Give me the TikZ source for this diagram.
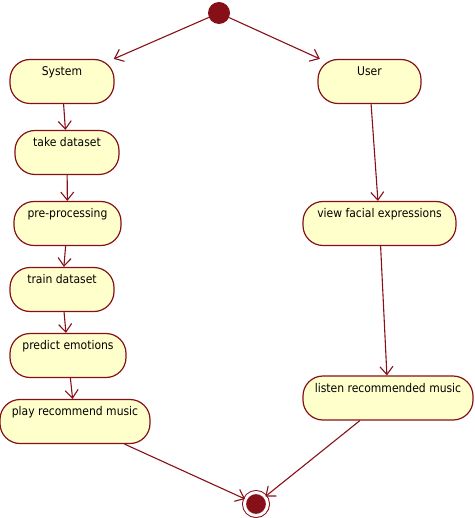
\documentclass[tikz,border=0pt]{standalone}
\usepackage{fontspec}
\setmainfont{DejaVu Sans Condensed}
\usetikzlibrary{arrows.meta}
\definecolor{ured}{RGB}{135,16,24}
\definecolor{ufill}{RGB}{255,255,204}

\begin{document}
\begin{tikzpicture}
		[level 1/.style={level distance=68.5pt,
			sibling distance=307.5pt},
		level 2/.style={level distance=71pt},
		level 3/.style={level distance=71pt},
		level 4/.style={level distance=66pt},
		level 5/.style={level distance=66pt},
		level 6/.style={level distance=66pt},
		act/.style={draw=ured, fill=ufill, line width=1.2pt,
			rounded corners=20pt, font=\fontsize{12}{14}\selectfont,
			inner ysep=3pt, text height=13pt, text depth=25pt},
		flow/.style={draw=ured, line width=1.1pt,
			-{Straight Barb[length=8pt,width=13pt]}},
		edge from parent/.style={flow}
	]
		\useasboundingbox (0,0) rectangle (474pt,-518pt);
		\node[circle, fill=ured, minimum size=22pt, inner sep=0pt] (start) at (219pt,-13pt) {} [grow=down]
		child[xshift=-3.25pt] {node[act, minimum width=104pt] (sys) {System}
			child[xshift=5pt] {node[act, minimum width=104pt] (take) {take dataset}
				child[xshift=0.5pt] {node[act, minimum width=107pt] (pre) {pre-processing}
					child[xshift=-5.5pt] {node[act, minimum width=104pt] (train) {train dataset}
						child[xshift=6pt] {node[act, minimum width=116pt] (predict) {predict emotions}
							child[xshift=7pt] {node[act, minimum width=150pt] (play) {play recommend music}}
						}
					}
				}
			}
		}
		child[xshift=-3.25pt] {node[act, minimum width=103pt] (usr) {User}
			child[level distance=142pt, xshift=10pt] {node[act, minimum width=153pt] (view) {view facial expressions}
				child[level distance=174.5pt, xshift=8.5pt] {node[act, minimum width=170pt] (listen) {listen recommended music}}
			}
		};
		\node[circle, draw=ured, fill=ured, line width=1pt, double=white,
			double distance=3pt, minimum size=23pt, inner sep=0pt] (end) at (256pt,-504pt) {};
		\draw[flow] (play) -- (end);
		\draw[flow] (listen) -- (end);
	\end{tikzpicture}
\end{document}
